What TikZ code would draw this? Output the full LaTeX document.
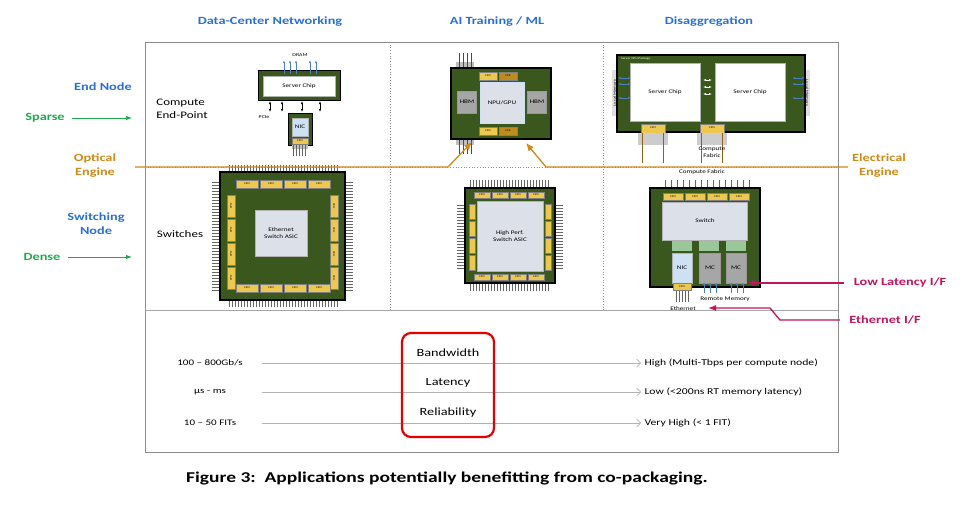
\documentclass[tikz,border=0pt]{standalone}
\usepackage{fontspec}
\setmainfont{Carlito}[FakeStretch=1.3]
\usetikzlibrary{arrows.meta}
\definecolor{hblue}{RGB}{40,112,214}
\definecolor{lgreen}{RGB}{30,170,75}
\definecolor{oran}{RGB}{208,138,26}
\definecolor{magen}{RGB}{192,20,92}
\definecolor{chipg}{RGB}{58,88,30}
\definecolor{cpoy}{RGB}{236,200,80}
\definecolor{cpedk}{RGB}{190,140,30}
\definecolor{asic}{RGB}{220,224,232}
\definecolor{nicb}{RGB}{205,225,245}
\definecolor{arrb}{RGB}{70,130,200}
\begin{document}
\begin{tikzpicture}[x=1pt,y=-1pt,
  head/.style={font=\bfseries\fontsize{11}{13}\selectfont,text=hblue},
  side/.style={font=\bfseries\fontsize{11}{14}\selectfont,align=center},
  lab/.style={font=\fontsize{10}{13}\selectfont,align=center},
  tiny/.style={font=\fontsize{4.5}{5.5}\selectfont,align=center},
  micro/.style={font=\fontsize{2.6}{3}\selectfont,inner sep=0},
  small/.style={font=\fontsize{5.5}{6.5}\selectfont,align=center},
  chip/.style={fill=chipg,draw=black,line width=1.2pt},
  cpo/.style={fill=cpoy,draw=black!50,line width=0.3pt},
  pin/.style={draw=black!60,line width=0.8pt},
  garr/.style={draw=black!30,line width=0.7pt,-{Straight Barb[length=4pt]}},
  oarr/.style={draw=oran,line width=1.3pt},
  marr/.style={draw=magen,line width=1.3pt,-{Latex[length=8pt,width=6pt]}},
  sarr/.style={draw=lgreen,line width=0.9pt,-{Latex[length=6pt]}},
  barr/.style={draw=arrb,line width=0.7pt,{Latex[length=3pt,open]}-{Latex[length=3pt,open]}},
  karr/.style={draw=black,line width=0.9pt,{Latex[length=3pt]}-{Latex[length=3pt]}}]
\useasboundingbox (0,0) rectangle (980,506);
\fill[white] (0,0) rectangle (980,506);
% frame
\draw[black!45,line width=0.8pt] (145,42) rectangle (838,452);
\draw[black!35,line width=0.6pt] (145,310) -- (838,310);
\draw[black!45,dotted,line width=0.7pt] (390,42) -- (390,310) (603,42) -- (603,310) (145,167) -- (838,167);
% headers
\node[head] (h1) at (270,22) {Data-Center Networking};
\node[head] (h2) at (497,22) {AI Training / ML};
\node[head] (h3) at (709,22) {Disaggregation};
% left / right labels
\node[side,text=hblue] (en) at (103,87) {End Node};
\node[side,text=lgreen] (sp) at (45,118) {Sparse};
\node[side,text=oran] (oe) at (95,166) {Optical\\Engine};
\node[side,text=hblue] (sn) at (96,224) {Switching\\Node};
\node[side,text=lgreen] (de) at (42,257) {Dense};
\node[side,text=oran] (ee) at (879,166) {Electrical\\Engine};
\node[side,text=magen] (ll) at (900,283) {Low Latency I/F};
\node[side,text=magen] (ei) at (885,320) {Ethernet I/F};
\node[lab,align=left] (ce) at (182,109) {Compute\\End-Point};
\node[lab] (sw) at (180,234) {Switches};

% ===== Column1 top: server chip + NIC
\fill[chipg] (258,70) rectangle (340,100); \draw[black,line width=1pt] (258,70) rectangle (340,100);
\node[fill=white,draw=black!30,minimum width=72pt,minimum height=20pt,small] (sc) at (299,86) {Server Chip};
\node[tiny] (dram) at (300,55) {DRAM};
\foreach \x in {284,290,296,310,316} \draw[barr,{Latex[length=3pt,open]}-] (\x,60)--(\x,74);
\foreach \x in {270,282,302,320} \draw[karr] (\x,101)--(\x,112);
\node[tiny] (pcie) at (264,117) {PCIe};
\fill[chipg] (288,113) rectangle (312,145); \draw[black,line width=1pt] (288,113) rectangle (312,145);
\node[fill=nicb,draw=black!30,minimum width=16pt,minimum height=18pt,inner sep=0,small] (nic1) at (300,127) {NIC};
\node[cpo,micro,minimum width=16pt,minimum height=6pt] (cpo1) at (300,141) {CPO};
\fill[black!25] (292,145) rectangle (308,149);
\foreach \x in {293,296,...,307} \draw[pin] (\x,145)--(\x,156);

% ===== Column1 bottom: Ethernet switch
\foreach \x in {229,232,...,338} {\draw[pin] (\x,165)--(\x,176); \draw[pin] (\x,296)--(\x,307);}
\foreach \y in {182,185,...,292} {\draw[pin] (212,\y)--(224,\y); \draw[pin] (341,\y)--(353,\y);}
\fill[chipg] (220,172) rectangle (345,300); \draw[black,line width=1.2pt] (220,172) rectangle (345,300);
\foreach \i in {0,...,3} {
  \draw[cpo] ({236+\i*24},180) rectangle ++(22,8); \node[micro] at ({247+\i*24},184) {CPO};
  \draw[cpo] ({236+\i*24},284) rectangle ++(22,8); \node[micro] at ({247+\i*24},288) {CPO};
  \draw[cpo] (227,{195+\i*24}) rectangle ++(8,22); \node[micro,rotate=90] at (231,{206+\i*24}) {CPO};
  \draw[cpo] (330,{195+\i*24}) rectangle ++(8,22); \node[micro,rotate=-90] at (334,{206+\i*24}) {CPO};
}
\node[fill=asic,draw=black!30,minimum width=52pt,minimum height=46pt,small] (esw) at (281,233) {Ethernet\\Switch ASIC};

% ===== Column2 top: NPU/GPU
\fill[black!25] (456,62) rectangle (474,70); \fill[black!25] (456,137) rectangle (474,145);
\foreach \x in {459,463,467,471} {\draw[pin,draw=black!70,line width=1pt] (\x,53)--(\x,70); \draw[pin,draw=black!70,line width=1pt] (\x,137)--(\x,154);}
\fill[chipg] (451,68) rectangle (551,139); \draw[black,line width=1.2pt] (451,68) rectangle (551,139);
\draw[cpo] (479,72) rectangle ++(18,8); \node[micro] at (488,76) {CPO};
\draw[cpo,fill=cpedk] (499,72) rectangle ++(18,8); \node[micro] at (508,76) {CPE};
\draw[cpo] (479,127) rectangle ++(18,8); \node[micro] at (488,131) {CPO};
\draw[cpo,fill=cpedk] (499,127) rectangle ++(18,8); \node[micro] at (508,131) {CPE};
\node[fill=black!35,draw=black!40,minimum width=19pt,minimum height=22pt,inner sep=0,small] (hbm1) at (467,102) {HBM};
\node[fill=black!35,draw=black!40,minimum width=19pt,minimum height=22pt,inner sep=0,small] (hbm2) at (537,102) {HBM};
\node[fill=asic,draw=nicb,line width=1pt,minimum width=44pt,minimum height=41pt,inner sep=0,small] (npu) at (502,103) {NPU/GPU};

% ===== Column2 bottom: High perf switch
\foreach \x in {470,473,...,550} {\draw[pin] (\x,180)--(\x,192); \draw[pin] (\x,279)--(\x,291);}
\foreach \y in {205,208,...,268} {\draw[pin] (457,\y)--(469,\y); \draw[pin] (551,\y)--(563,\y);}
\fill[chipg] (465,188) rectangle (555,283); \draw[black,line width=1.2pt] (465,188) rectangle (555,283);
\foreach \i in {0,...,3} {
  \draw[cpo] ({474+\i*18},192) rectangle ++(16,6); \node[micro] at ({482+\i*18},195) {CPO};
  \draw[cpo] ({474+\i*18},274) rectangle ++(16,6); \node[micro] at ({482+\i*18},277) {CPO};
  \draw[cpo] (469,{204+\i*17}) rectangle ++(6,15);
  \draw[cpo] (545,{204+\i*17}) rectangle ++(6,15);
}
\node[fill=asic,draw=black!30,minimum width=66pt,minimum height=70pt,small] (hps) at (510,236) {High Perf.\\Switch ASIC};

% ===== Column3 top: server CPU package
\fill[black!12] (612,70) rectangle (626,116); \fill[black!12] (796,70) rectangle (810,116);
\node[tiny,rotate=90,font=\fontsize{3.5}{4}\selectfont] (lm1) at (615,93) {Local Memory};
\node[tiny,rotate=-90,font=\fontsize{3.5}{4}\selectfont] (lm2) at (807,93) {Local Memory};
\fill[chipg] (617,55) rectangle (805,132); \draw[black,line width=1.2pt] (617,55) rectangle (805,132);
\node[font=\fontsize{2.8}{3}\selectfont,text=white,anchor=west,inner sep=0] (scp) at (621,59) {Server CPU Package};
\node[fill=white,draw=black!30,minimum width=70pt,minimum height=58pt,small] (sc1) at (665,92) {Server Chip};
\node[fill=white,draw=black!30,minimum width=70pt,minimum height=58pt,small] (sc2) at (750,92) {Server Chip};
\foreach \y in {78,84,98} {\draw[barr] (618,\y)--(631,\y); \draw[barr] (792,\y)--(805,\y);}
\foreach \y in {80,87,94} \draw[barr,draw=white] (703,\y)--(712,\y);
\draw[cpo] (641,124) rectangle ++(24,9); \node[micro] at (653,128) {CPO};
\draw[cpo] (700,124) rectangle ++(24,9); \node[micro] at (712,128) {CPO};
\fill[black!20] (638,133) rectangle (668,145); \fill[black!20] (697,133) rectangle (727,145);
\foreach \x in {642,663,701,722} \draw[pin,draw=oran!70!black] (\x,133)--(\x,163);
\node[small] (cf1) at (712,152) {Compute\\Fabric};

% ===== Column3 bottom: switch with NIC/MC
\node[small] (cf2) at (702,172) {Compute Fabric};
\foreach \x in {665,671,...,749} \draw[pin] (\x,180)--(\x,192);
\fill[chipg] (650,188) rectangle (760,287); \draw[black,line width=1.2pt] (650,188) rectangle (760,287);
\foreach \i in {0,...,3} {\draw[cpo] ({663+\i*22},193) rectangle ++(20,7); \node[micro] at ({673+\i*22},196.5) {CPO};}
\node[fill=asic,draw=black!30,minimum width=85pt,minimum height=38pt,small] (swi) at (705,221) {Switch};
\foreach \x in {672,699,726} \fill[green!45!black!40] (\x,241) rectangle ++(20,10);
\node[fill=nicb,draw=black!30,minimum width=20pt,minimum height=30pt,inner sep=0,small] (nic3) at (682,268) {NIC};
\node[fill=black!35,draw=black!40,minimum width=21pt,minimum height=30pt,inner sep=0,small] (mc1) at (710,268) {MC};
\node[fill=black!35,draw=black!40,minimum width=20pt,minimum height=30pt,inner sep=0,small] (mc2) at (736,268) {MC};
\node[cpo,micro,minimum width=18pt,minimum height=7pt] (cpo3) at (682,287) {CPO};
\foreach \x in {676,679,...,688} \draw[pin] (\x,291)--(\x,302);
\foreach \x in {704,710,716,731,737,743} \draw[barr,{Latex[length=3pt,open]}-] (\x,282)--(\x,293);
\node[small] (rm) at (725,299) {Remote Memory};
\node[small] (eth) at (683,309) {Ethernet};

% ===== connectors on top
\coordinate (spe) at (132,118);
\draw[sarr] (sp.east) ++(4,0) -- (spe);
\coordinate (dee) at (132,257);
\draw[sarr] (de.east) ++(4,0) -- (dee);
\coordinate (o1) at (448,167); \coordinate (o1e) at (472,142);
\coordinate (o2) at (546,167); \coordinate (o2e) at (526,143);
\draw[oarr,-{Latex[length=8pt,width=7pt]}] (135,167) -- (o1) -- (o1e);
\draw[oarr,-{Latex[length=8pt,width=7pt]}] (848,167) -- (o2) -- (o2e);
\coordinate (m1) at (747,283);
\draw[marr] (ll.west) ++(-6,0) -- (m1);
\coordinate (m2a) at (780,320); \coordinate (m2b) at (770,308); \coordinate (m2) at (708,308);
\draw[marr] (ei.west) ++(-6,0) -- (m2a) -- (m2b) -- (m2);

% ===== bottom table
\node[font=\fontsize{8.5}{10}\selectfont] (l1) at (210,363) {100 – 800Gb/s};
\node[font=\fontsize{8.5}{10}\selectfont] (l2) at (210,392) {µs - ms};
\node[font=\fontsize{8.5}{10}\selectfont] (l3) at (210,423) {10 – 50 FITs};
\node[font=\fontsize{11}{13}\selectfont] (c1) at (448,353) {Bandwidth};
\node[font=\fontsize{11}{13}\selectfont] (c2) at (448,383) {Latency};
\node[font=\fontsize{11}{13}\selectfont] (c3) at (448,413) {Reliability};
\node[anchor=west,font=\fontsize{9}{11}\selectfont] (r1) at (641,363) {High (Multi-Tbps per compute node)};
\node[anchor=west,font=\fontsize{9}{11}\selectfont] (r2) at (641,392) {Low (<200ns RT memory latency)};
\node[anchor=west,font=\fontsize{9}{11}\selectfont] (r3) at (641,423) {Very High (< 1 FIT)};
\coordinate (a1) at (262,363); \coordinate (a2) at (262,392); \coordinate (a3) at (262,423);
\draw[garr] (a1) -- (r1.west);
\draw[garr] (a2) -- (r2.west);
\draw[garr] (a3) -- (r3.west);
\draw[red!90!black,line width=2.2pt,rounded corners=9pt] (402,333) rectangle (494,437);
% caption
\node[font=\bfseries\fontsize{15}{18}\selectfont] (cap) at (447,478) {Figure 3:\ \ Applications potentially benefitting from co-packaging.};
\end{tikzpicture}
\end{document}
